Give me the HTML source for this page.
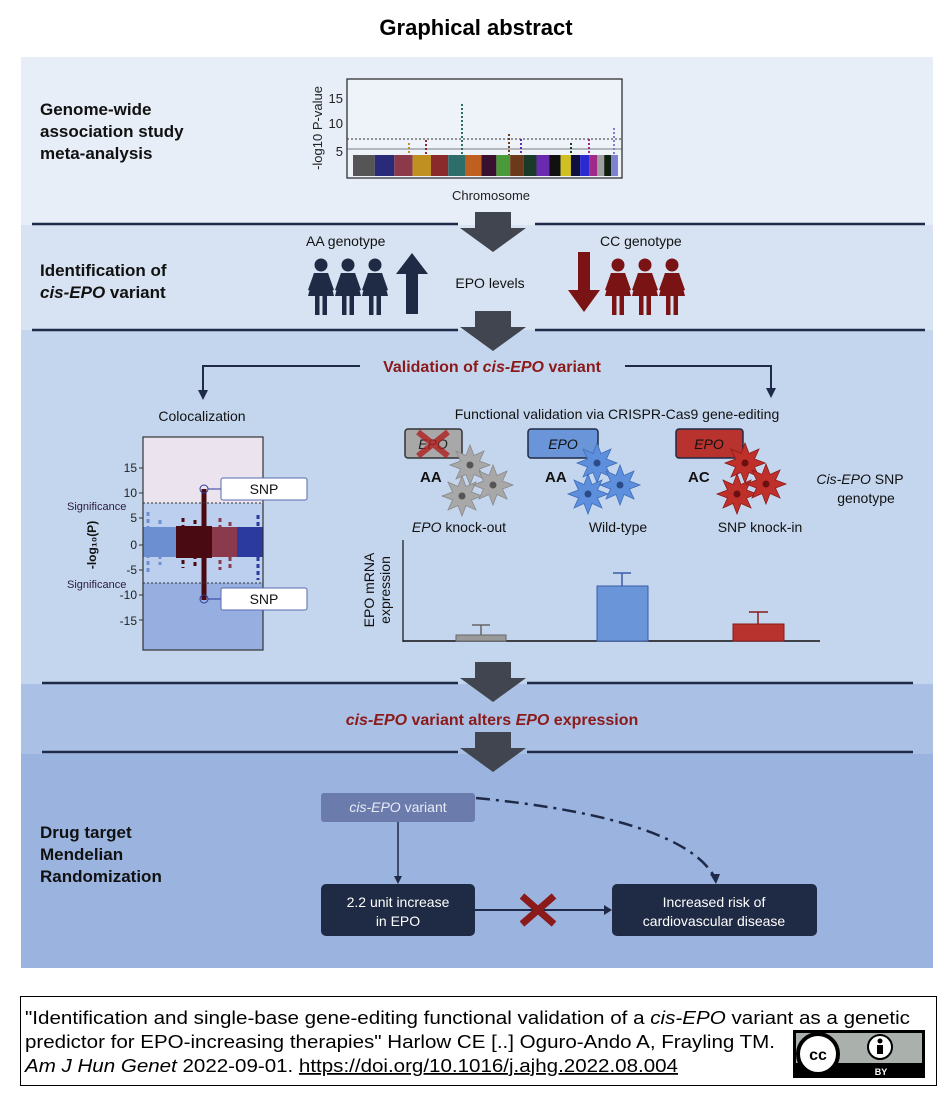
<!DOCTYPE html>
<html><head><meta charset="utf-8"><style>
html,body{margin:0;padding:0;background:#fff;}
svg{display:block;font-family:"Liberation Sans",sans-serif;}
</style></head><body>
<svg width="952" height="1106" viewBox="0 0 952 1106" xmlns="http://www.w3.org/2000/svg">
<defs>
<g id="person">
<circle cx="14" cy="7" r="6.5"/>
<path d="M7,15 H21 L27,38 H1 Z"/>
<path d="M7,15 L1,32 L4,33 L9,20 Z M21,15 L27,32 L24,33 L19,20 Z"/>
<rect x="8" y="37" width="4.5" height="20"/>
<rect x="15.5" y="37" width="4.5" height="20"/>
</g>
<g id="cell">
<polygon points="20,0 9.5,4 14,14 4,9.5 0,20 -4,9.5 -14,14 -9.5,4 -20,0 -9.5,-4 -14,-14 -4,-9.5 0,-20 4,-9.5 14,-14 9.5,-4"/>
</g>
<g id="bigarrow" fill="#41454f">
<rect x="-18" y="0" width="36" height="16"/>
<polygon points="-33,16 33,16 0,40"/>
</g>
</defs>

<text x="476" y="35" text-anchor="middle" font-size="22" font-weight="bold" fill="#000">Graphical abstract</text>

<rect x="21" y="57" width="912" height="168" fill="#e7eef8"/>
<rect x="21" y="225" width="912" height="105" fill="#d7e3f2"/>
<rect x="21" y="330" width="912" height="354" fill="#c4d6ee"/>
<rect x="21" y="684" width="912" height="70" fill="#aac0e5"/>
<rect x="21" y="754" width="912" height="214" fill="#9ab3df"/>

<g stroke="#1e2a48" stroke-width="2.5">
<line x1="32" y1="224" x2="458" y2="224"/><line x1="535" y1="224" x2="925" y2="224"/>
<line x1="32" y1="330" x2="458" y2="330"/><line x1="535" y1="330" x2="925" y2="330"/>
<line x1="42" y1="683" x2="458" y2="683"/><line x1="527" y1="683" x2="913" y2="683"/>
<line x1="42" y1="752" x2="458" y2="752"/><line x1="527" y1="752" x2="913" y2="752"/>
</g>
<use href="#bigarrow" x="493" y="212"/>
<use href="#bigarrow" x="493" y="311"/>
<use href="#bigarrow" x="493" y="662"/>
<use href="#bigarrow" x="493" y="732"/>

<g font-size="17" font-weight="bold" fill="#111">
<text x="40" y="115">Genome-wide</text>
<text x="40" y="137">association study</text>
<text x="40" y="159">meta-analysis</text>
</g>
<rect x="347" y="79" width="275" height="99" fill="#eef3fa" stroke="#222" stroke-width="1.2"/>
<g font-size="13" fill="#222">
<text x="343" y="103" text-anchor="end">15</text>
<text x="343" y="128" text-anchor="end">10</text>
<text x="343" y="156" text-anchor="end">5</text>
<text transform="translate(322,128) rotate(-90)" text-anchor="middle" font-size="13">-log10 P-value</text>
<text x="491" y="200" text-anchor="middle" font-size="13">Chromosome</text>
</g>
<line x1="347" y1="139" x2="622" y2="139" stroke="#333" stroke-dasharray="2,2"/>
<line x1="347" y1="149" x2="622" y2="149" stroke="#555" stroke-width="0.8"/>
<g transform="translate(353,0) scale(1.147,1) translate(-353,0)">
<rect x="353" y="155" width="19" height="21" fill="#555"/>
<rect x="372" y="155" width="17" height="21" fill="#2a2a7a"/>
<rect x="389" y="155" width="16" height="21" fill="#8b3a4a"/>
<rect x="405" y="155" width="16" height="21" fill="#c09020"/>
<rect x="421" y="155" width="15" height="21" fill="#8b2a2a"/>
<rect x="436" y="155" width="15" height="21" fill="#2e6e6a"/>
<rect x="451" y="155" width="14" height="21" fill="#c06020"/>
<rect x="465" y="155" width="13" height="21" fill="#3a1030"/>
<rect x="478" y="155" width="12" height="21" fill="#4a9a3a"/>
<rect x="490" y="155" width="12" height="21" fill="#6a3a1a"/>
<rect x="502" y="155" width="11" height="21" fill="#1a3a2a"/>
<rect x="513" y="155" width="11" height="21" fill="#6a2ab0"/>
<rect x="524" y="155" width="10" height="21" fill="#111"/>
<rect x="534" y="155" width="9" height="21" fill="#d0c020"/>
<rect x="543" y="155" width="8" height="21" fill="#101040"/>
<rect x="551" y="155" width="8" height="21" fill="#2a2ad0"/>
<rect x="559" y="155" width="7" height="21" fill="#a02a8a"/>
<rect x="566" y="155" width="6" height="21" fill="#a0a0a0"/>
<rect x="572" y="155" width="6" height="21" fill="#102010"/>
<rect x="578" y="155" width="6" height="21" fill="#8080d0"/>
</g>
<g stroke-width="2" stroke-dasharray="2,2">
<line x1="462" y1="104" x2="462" y2="155" stroke="#2e6e6a"/>
<line x1="509" y1="134" x2="509" y2="155" stroke="#6a3a1a"/>
<line x1="614" y1="128" x2="614" y2="155" stroke="#8080d0"/>
<line x1="426" y1="140" x2="426" y2="155" stroke="#8b2a2a"/>
<line x1="409" y1="143" x2="409" y2="155" stroke="#c09020"/>
<line x1="521" y1="139" x2="521" y2="155" stroke="#6a2ab0"/>
<line x1="589" y1="139" x2="589" y2="155" stroke="#a02a8a"/>
<line x1="571" y1="143" x2="571" y2="155" stroke="#1a3a2a"/>
</g>

<g font-size="17" font-weight="bold" fill="#111">
<text x="40" y="276">Identification of</text>
<text x="40" y="298"><tspan font-style="italic">cis-EPO</tspan> variant</text>
</g>
<text x="306" y="246" font-size="14" fill="#111">AA genotype</text>
<text x="600" y="246" font-size="14" fill="#111">CC genotype</text>
<text x="490" y="288" font-size="14" fill="#111" text-anchor="middle">EPO levels</text>
<g fill="#1f2a44">
<use href="#person" x="307" y="258"/><use href="#person" x="334" y="258"/><use href="#person" x="361" y="258"/>
<polygon points="412,253 428,274 418,274 418,314 406,314 406,274 396,274"/>
</g>
<g fill="#7a1414">
<use href="#person" x="604" y="258"/><use href="#person" x="631" y="258"/><use href="#person" x="658" y="258"/>
<polygon points="584,312 600,290 590,290 590,252 578,252 578,290 568,290"/>
</g>

<g stroke="#1e2a48" stroke-width="2" fill="none">
<polyline points="203,393 203,366 360,366"/>
<polyline points="625,366 771,366 771,390"/>
</g>
<polygon points="198,390 208,390 203,400" fill="#1e2a48"/>
<polygon points="766,388 776,388 771,398" fill="#1e2a48"/>
<text x="492" y="372" text-anchor="middle" font-size="16" font-weight="bold" fill="#8b1a1a">Validation of <tspan font-style="italic">cis-EPO</tspan> variant</text>
<text x="202" y="421" text-anchor="middle" font-size="14" fill="#111">Colocalization</text>

<rect x="143" y="437" width="120" height="66" fill="#ebe4ef"/>
<rect x="143" y="503" width="120" height="80" fill="#bccfee"/>
<rect x="143" y="583" width="120" height="67" fill="#97aee0"/>
<rect x="143" y="527" width="33" height="30" fill="#6c8fd2"/>
<rect x="176" y="526" width="36" height="32" fill="#4a0a12"/>
<rect x="212" y="527" width="25" height="30" fill="#8a3a4c"/>
<rect x="237" y="527" width="26" height="30" fill="#2a3a9e"/>
<g stroke-width="3" stroke-dasharray="4,3">
<line x1="148" y1="512" x2="148" y2="575" stroke="#6c8fd2"/>
<line x1="160" y1="520" x2="160" y2="565" stroke="#6c8fd2"/>
<line x1="183" y1="518" x2="183" y2="568" stroke="#4a0a12"/>
<line x1="195" y1="520" x2="195" y2="566" stroke="#4a0a12"/>
<line x1="220" y1="518" x2="220" y2="570" stroke="#8a3a4c"/>
<line x1="230" y1="522" x2="230" y2="570" stroke="#8a3a4c"/>
<line x1="258" y1="515" x2="258" y2="580" stroke="#2a3a9e"/>
</g>
<line x1="204" y1="489" x2="204" y2="600" stroke="#4a0a12" stroke-width="5"/>
<circle cx="204" cy="489" r="4" fill="none" stroke="#2a3a9e"/>
<circle cx="204" cy="599" r="4" fill="none" stroke="#2a3a9e"/>
<line x1="208" y1="489" x2="222" y2="489" stroke="#2a3a9e"/>
<line x1="208" y1="599" x2="222" y2="599" stroke="#2a3a9e"/>
<line x1="143" y1="503" x2="263" y2="503" stroke="#333" stroke-dasharray="2,2"/>
<line x1="143" y1="583" x2="263" y2="583" stroke="#333" stroke-dasharray="2,2"/>
<rect x="143" y="437" width="120" height="213" fill="none" stroke="#333" stroke-width="1.2"/>
<g font-size="12" fill="#222" text-anchor="end">
<text x="137" y="472">15</text><text x="137" y="497">10</text><text x="137" y="522">5</text>
<text x="137" y="549">0</text><text x="137" y="574">-5</text><text x="137" y="599">-10</text><text x="137" y="625">-15</text>
</g>
<g stroke="#333"><line x1="139" y1="468" x2="143" y2="468"/><line x1="139" y1="493" x2="143" y2="493"/><line x1="139" y1="518" x2="143" y2="518"/><line x1="139" y1="545" x2="143" y2="545"/><line x1="139" y1="570" x2="143" y2="570"/><line x1="139" y1="595" x2="143" y2="595"/><line x1="139" y1="620" x2="143" y2="620"/></g>
<text x="67" y="510" font-size="11" fill="#2a1a3a">Significance</text>
<text x="67" y="588" font-size="11" fill="#2a1a3a">Significance</text>
<text transform="translate(96,545) rotate(-90)" text-anchor="middle" font-size="12" font-weight="bold" fill="#111">-log₁₀(P)</text>
<rect x="221" y="478" width="86" height="22" rx="2" fill="#fff" stroke="#5a6ab0"/>
<text x="264" y="494" text-anchor="middle" font-size="14" fill="#111">SNP</text>
<rect x="221" y="588" width="86" height="22" rx="2" fill="#fff" stroke="#5a6ab0"/>
<text x="264" y="604" text-anchor="middle" font-size="14" fill="#111">SNP</text>

<text x="617" y="419" text-anchor="middle" font-size="14" fill="#111">Functional validation via CRISPR-Cas9 gene-editing</text>
<rect x="405" y="429" width="57" height="29" rx="3" fill="#a8a8a8" stroke="#333" stroke-width="1.5"/>
<text x="433" y="449" text-anchor="middle" font-size="14" font-style="italic" fill="#222">EPO</text>
<path d="M418,432 L448,456 M448,432 L418,456" stroke="#b02020" stroke-width="6" opacity="0.8"/>
<rect x="528" y="429" width="70" height="29" rx="3" fill="#6a95d8" stroke="#1f2a44" stroke-width="1.5"/>
<text x="563" y="449" text-anchor="middle" font-size="14" font-style="italic" fill="#111">EPO</text>
<rect x="676" y="429" width="67" height="29" rx="3" fill="#b8322e" stroke="#1f2a44" stroke-width="1.5"/>
<text x="709" y="449" text-anchor="middle" font-size="14" font-style="italic" fill="#111">EPO</text>
<g fill="#a8a8a8" stroke="#888" stroke-width="0.8">
<use href="#cell" x="470" y="465"/><use href="#cell" x="462" y="496"/><use href="#cell" x="493" y="485"/>
</g>
<g fill="#5e8fdc" stroke="#3d6cb8" stroke-width="0.8">
<use href="#cell" x="597" y="463"/><use href="#cell" x="588" y="494"/><use href="#cell" x="620" y="485"/>
</g>
<g fill="#c0302a" stroke="#8a1a1a" stroke-width="0.8">
<use href="#cell" x="745" y="463"/><use href="#cell" x="737" y="494"/><use href="#cell" x="766" y="484"/>
</g>
<g fill="#555"><circle cx="470" cy="465" r="3.5"/><circle cx="462" cy="496" r="3.5"/><circle cx="493" cy="485" r="3.5"/></g>
<g fill="#2a4a8a"><circle cx="597" cy="463" r="3.5"/><circle cx="588" cy="494" r="3.5"/><circle cx="620" cy="485" r="3.5"/></g>
<g fill="#6a1010"><circle cx="745" cy="463" r="3.5"/><circle cx="737" cy="494" r="3.5"/><circle cx="766" cy="484" r="3.5"/></g>
<g font-size="15" font-weight="bold" fill="#111">
<text x="420" y="482">AA</text><text x="545" y="482">AA</text><text x="688" y="482">AC</text>
</g>
<text x="860" y="484" text-anchor="middle" font-size="14" fill="#111"><tspan font-style="italic">Cis-EPO</tspan> SNP</text>
<text x="866" y="503" text-anchor="middle" font-size="14" fill="#111">genotype</text>
<g font-size="14" fill="#111" text-anchor="middle">
<text x="459" y="532"><tspan font-style="italic">EPO</tspan> knock-out</text>
<text x="618" y="532">Wild-type</text>
<text x="760" y="532">SNP knock-in</text>
</g>
<text transform="translate(374,590) rotate(-90)" text-anchor="middle" font-size="14" fill="#111">EPO mRNA</text>
<text transform="translate(390,590) rotate(-90)" text-anchor="middle" font-size="14" fill="#111">expression</text>
<line x1="403" y1="540" x2="403" y2="642" stroke="#111" stroke-width="1.2"/>
<line x1="403" y1="641" x2="820" y2="641" stroke="#111" stroke-width="1.5"/>
<rect x="456" y="635" width="50" height="6" fill="#9a9a9a" stroke="#666"/>
<path d="M481,635 V625 M472,625 H490" stroke="#666" stroke-width="1.5"/>
<rect x="597" y="586" width="51" height="55" fill="#6a95d8" stroke="#3a5aa8"/>
<path d="M622,586 V573 M613,573 H631" stroke="#3a5aa8" stroke-width="1.5"/>
<rect x="733" y="624" width="51" height="17" fill="#b8322e" stroke="#8a1a1a"/>
<path d="M758,624 V612 M749,612 H768" stroke="#8a1a1a" stroke-width="1.5"/>

<text x="492" y="725" text-anchor="middle" font-size="16" font-weight="bold" fill="#8b1a1a"><tspan font-style="italic">cis-EPO</tspan> variant alters <tspan font-style="italic">EPO</tspan> expression</text>

<g font-size="17" font-weight="bold" fill="#111">
<text x="40" y="838">Drug target</text>
<text x="40" y="860">Mendelian</text>
<text x="40" y="882">Randomization</text>
</g>
<rect x="321" y="793" width="154" height="29" rx="3" fill="#6b7bac"/>
<text x="398" y="812" text-anchor="middle" font-size="14" fill="#e8ecf6"><tspan font-style="italic">cis-EPO</tspan> variant</text>
<line x1="398" y1="822" x2="398" y2="878" stroke="#1e2a48" stroke-width="1.5"/>
<polygon points="394,876 402,876 398,884" fill="#1e2a48"/>
<path d="M476,798 C580,808 690,830 715,878" fill="none" stroke="#1e2a48" stroke-width="2.5" stroke-dasharray="14,6,3,6"/>
<polygon points="710,874 720,874 716,884" fill="#1e2a48"/>
<rect x="321" y="884" width="154" height="52" rx="5" fill="#1f2a44"/>
<text x="398" y="907" text-anchor="middle" font-size="14" fill="#fff">2.2 unit increase</text>
<text x="398" y="926" text-anchor="middle" font-size="14" fill="#fff">in EPO</text>
<rect x="612" y="884" width="205" height="52" rx="5" fill="#1f2a44"/>
<text x="714" y="907" text-anchor="middle" font-size="14" fill="#fff">Increased risk of</text>
<text x="714" y="926" text-anchor="middle" font-size="14" fill="#fff">cardiovascular disease</text>
<line x1="475" y1="910" x2="606" y2="910" stroke="#1e2a48" stroke-width="2"/>
<polygon points="604,905 612,910 604,915" fill="#1e2a48"/>
<path d="M522,896 L554,924 M554,896 L522,924" stroke="#8b1a1a" stroke-width="7"/>

<rect x="20.5" y="996.5" width="916" height="89" fill="#fff" stroke="#000" stroke-width="1"/>
<g font-size="18" fill="#000">
<text x="25" y="1024" textLength="885" lengthAdjust="spacingAndGlyphs">"Identification and single-base gene-editing functional validation of a <tspan font-style="italic">cis-EPO</tspan> variant as a genetic</text>
<text x="25" y="1048" textLength="750" lengthAdjust="spacingAndGlyphs">predictor for EPO-increasing therapies" Harlow CE [..] Oguro-Ando A, Frayling TM.</text>
<text x="25" y="1072" textLength="653" lengthAdjust="spacingAndGlyphs"><tspan font-style="italic">Am J Hun Genet</tspan> 2022-09-01. <tspan text-decoration="underline">https://doi.org/10.1016/j.ajhg.2022.08.004</tspan></text>
</g>
<rect x="793" y="1030" width="132" height="48" fill="#000"/>
<rect x="796" y="1033" width="126" height="30" fill="#aab0ac"/>
<circle cx="818" cy="1054" r="20" fill="#fff" stroke="#000" stroke-width="4"/>
<text x="818" y="1060" text-anchor="middle" font-size="16" font-weight="bold" fill="#000">cc</text>
<circle cx="880" cy="1047" r="12" fill="#fff" stroke="#000" stroke-width="2"/>
<circle cx="880" cy="1041" r="2.5" fill="#000"/>
<rect x="877" y="1045" width="6" height="9" fill="#000"/>
<text x="881" y="1075" text-anchor="middle" font-size="9" font-weight="bold" fill="#fff">BY</text>
</svg>
</body></html>
